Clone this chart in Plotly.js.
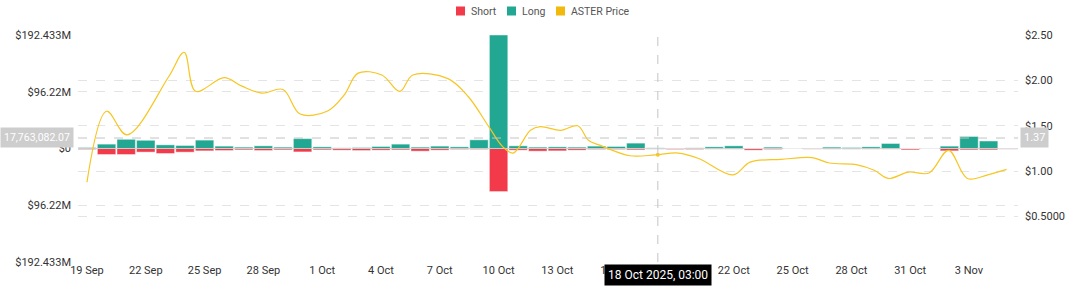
<!DOCTYPE html>
<html>
<head>
<meta charset="utf-8">
<script src="https://cdn.plot.ly/plotly-3.0.1.min.js"></script>
<style>html,body{margin:0;padding:0;background:#fff;}#chart{width:1080px;height:306px;}</style>
</head>
<body>
<div id="chart"></div>
<script>
// ---- data ----
const dates = [
 '2025-09-19','2025-09-20','2025-09-21','2025-09-22','2025-09-23','2025-09-24','2025-09-25','2025-09-26',
 '2025-09-27','2025-09-28','2025-09-29','2025-09-30','2025-10-01','2025-10-02','2025-10-03','2025-10-04',
 '2025-10-05','2025-10-06','2025-10-07','2025-10-08','2025-10-09','2025-10-10','2025-10-11','2025-10-12',
 '2025-10-13','2025-10-14','2025-10-15','2025-10-16','2025-10-17','2025-10-18','2025-10-19','2025-10-20',
 '2025-10-21','2025-10-22','2025-10-23','2025-10-24','2025-10-25','2025-10-26','2025-10-27','2025-10-28',
 '2025-10-29','2025-10-30','2025-10-31','2025-11-01','2025-11-02','2025-11-03','2025-11-04','2025-11-05'];
// liquidations in millions USD
const longM = [1.7,7.4,15.6,13.9,6.2,5.1,14.2,4.0,2.3,4.5,2.3,16.7,2.8,1.1,1.7,3.4,
 7.4,2.3,4.0,2.8,14.7,192.433,4.5,2.3,2.8,2.3,4.0,3.4,9.1,1.1,0.6,1.1,
 2.8,4.5,0.6,2.3,0.3,0.6,2.3,1.7,2.8,8.5,0.2,0.3,4.0,20.4,12.7,0.6];
const shortM = [1.7,10.2,10.2,6.1,8.5,6.2,4.0,3.4,2.3,3.4,2.3,5.8,2.3,2.8,3.4,2.8,
 2.3,4.5,2.8,1.7,1.7,73.0,2.8,4.5,4.0,2.8,1.7,1.7,2.3,1.1,1.7,1.7,
 1.1,1.1,2.8,1.7,0.5,1.1,1.1,1.1,1.1,1.1,2.3,0.5,4.0,2.3,2.3,1.1];
const priceTimes = ['2025-09-19 00:00','2025-09-20 00:00','2025-09-21 01:00','2025-09-23 04:00','2025-09-23 23:00',
 '2025-09-24 13:00','2025-09-26 00:00','2025-09-26 21:00','2025-09-27 22:00','2025-09-29 00:00','2025-09-29 21:00',
 '2025-10-01 06:00','2025-10-02 03:00','2025-10-02 20:00','2025-10-04 01:00','2025-10-04 23:00','2025-10-05 15:00',
 '2025-10-07 10:00','2025-10-08 11:00','2025-10-09 12:00','2025-10-10 05:00','2025-10-10 18:00','2025-10-11 15:00',
 '2025-10-12 03:00','2025-10-13 04:00','2025-10-14 01:00','2025-10-14 14:00','2025-10-15 03:00','2025-10-16 17:00',
 '2025-10-18 00:00','2025-10-19 04:00','2025-10-20 05:00','2025-10-21 23:00','2025-10-22 20:00','2025-10-24 10:00',
 '2025-10-26 00:00','2025-10-26 21:00','2025-10-28 07:00','2025-10-29 04:00','2025-10-29 21:00','2025-10-30 22:00',
 '2025-10-31 23:00','2025-11-01 23:00','2025-11-02 22:00','2025-11-03 23:00','2025-11-04 22:00'];
const prices = [0.88,1.66,1.40,2.04,2.31,1.88,2.03,1.94,1.86,1.90,1.63,
 1.66,1.84,2.08,2.06,1.88,2.06,2.02,1.82,1.49,1.27,1.20,1.45,
 1.49,1.45,1.50,1.34,1.29,1.17,1.18,1.20,1.14,0.96,1.10,1.13,
 1.15,1.09,1.07,1.01,0.92,0.99,0.98,1.23,0.92,0.96,1.02];
const leftTickVals = [-192433000,-96220000,0,96220000,192433000];
const leftTickText = ['$192.433M','$96.22M','$0','$96.22M','$192.433M'];
const rightTickVals = [0.5,1,1.5,2,2.5];
const rightTickText = ['$0.5000','$1.00','$1.50','$2.00','$2.50'];
const legendNames = ['Short','Long','ASTER Price'];
const crossTime = '2025-10-18 03:00';
const crossTimeLabel = '18 Oct 2025, 03:00';
const crossValue = 17763082.07;
const crossValueLabel = '17,763,082.07';
const crossPrice = 1.37;
const crossPriceOnLine = 1.18;

// ---- chart ----
const RED = '#F23A4A', GREEN = '#22A892', YELLOW = '#F7C623', LEG_YELLOW = '#F0B90B';
const legendColors = [RED, GREEN, LEG_YELLOW];
const W = 1080, H = 306, ML = 78, MR = 62, MT = 35, MB = 44;
const PW = W - ML - MR, PH = H - MT - MB;
const px2x = p => (p - ML) / PW;
const px2y = p => (H - MB - p) / PH;

const longVals = longM.map(v => v * 1e6);
const shortVals = shortM.map(v => -v * 1e6);

const traces = [
 {type:'bar', name:'Short', x:dates, y:shortVals, marker:{color:RED, line:{color:'rgba(255,255,255,0.55)', width:0.8}}, hoverinfo:'skip'},
 {type:'bar', name:'Long', x:dates, y:longVals, marker:{color:GREEN, line:{color:'rgba(255,255,255,0.55)', width:0.8}}, hoverinfo:'skip'},
 {type:'scatter', mode:'lines', name:'ASTER Price', x:priceTimes, y:prices, yaxis:'y2',
  line:{color:YELLOW, width:1.2, shape:'spline', smoothing:1}, hoverinfo:'skip'},
 {type:'scatter', mode:'markers', x:[crossTime], y:[crossPriceOnLine], yaxis:'y2',
  marker:{color:YELLOW, size:4}, hoverinfo:'skip'}
];

// manual legend (square + text), positioned in pixels
const legSquareX = [456, 507, 556];
const legTextX = [469, 520, 569];
const legendShapes = legendNames.map((n, i) => ({
 type:'rect', xref:'paper', yref:'paper',
 x0:px2x(legSquareX[i]), x1:px2x(legSquareX[i] + 9), y0:px2y(15.5), y1:px2y(6.5),
 fillcolor:legendColors[i], line:{width:0}
}));
const legendAnns = legendNames.map((n, i) => ({
 xref:'paper', yref:'paper', x:px2x(legTextX[i]), xanchor:'left', y:px2y(11), yanchor:'middle',
 text:n, showarrow:false, font:{size:10.5, color:'#555'}
}));

const layout = {
 width:W, height:H,
 margin:{l:ML, r:MR, t:MT, b:MB, pad:0, autoexpand:false},
 paper_bgcolor:'#fff', plot_bgcolor:'#fff',
 font:{family:'Roboto, "Noto Sans", sans-serif', size:11, color:'#333'},
 barmode:'relative', bargap:0.06,
 hovermode:false,
 showlegend:false,
 xaxis:{type:'date', range:['2025-09-18 13:00','2025-11-05 12:00'],
   tick0:'2025-09-19', dtick:3*86400000, tickformat:'%-d %b',
   showgrid:false, zeroline:false, showline:false, ticks:'', ticklen:0,
   tickfont:{size:11, color:'#333'}},
 yaxis:{range:[-192433000,192433000], tickvals:leftTickVals, ticktext:leftTickText,
   showgrid:true, gridcolor:'#e4e4e4', griddash:'dash', gridwidth:1,
   zeroline:true, zerolinecolor:'#c8c8c8', zerolinewidth:1,
   showline:false, ticks:'', ticklabelstandoff:6, tickfont:{size:11, color:'#333'}, fixedrange:true},
 yaxis2:{range:[0,2.5], overlaying:'y', side:'right', tickvals:rightTickVals, ticktext:rightTickText,
   showgrid:true, gridcolor:'#e4e4e4', griddash:'dash', gridwidth:1, zeroline:false,
   showline:false, ticks:'', ticklabelstandoff:6, tickfont:{size:11, color:'#333'}, fixedrange:true},
 shapes:[
  {type:'line', xref:'x', yref:'paper', x0:crossTime, x1:crossTime, y0:0, y1:1,
   line:{color:'#c4c4c4', width:1, dash:'dash'}},
  {type:'line', xref:'paper', yref:'y', x0:0, x1:1, y0:crossValue, y1:crossValue,
   line:{color:'#c4c4c4', width:1, dash:'dash'}}
 ].concat(legendShapes),
 annotations:[
  {xref:'paper', yref:'y', x:px2x(0), xanchor:'left', y:crossValue, yanchor:'middle', yshift:1,
   text:crossValueLabel, showarrow:false, bgcolor:'#cdcdcd', borderpad:3,
   font:{color:'#fff', size:10.5}},
  {xref:'paper', yref:'y2', x:1, xanchor:'left', xshift:2, y:crossPrice, yanchor:'middle',
   text:String(crossPrice), showarrow:false, bgcolor:'#cdcdcd', borderpad:3,
   font:{color:'#fff', size:11}},
  {xref:'x', yref:'paper', x:crossTime, xanchor:'center', y:0, yanchor:'top', yshift:-2,
   text:crossTimeLabel, showarrow:false, bgcolor:'#000', borderpad:3,
   font:{color:'#fff', size:12}}
 ].concat(legendAnns)
};

Plotly.newPlot('chart', traces, layout, {displayModeBar:false, staticPlot:true});
</script>
</body>
</html>
